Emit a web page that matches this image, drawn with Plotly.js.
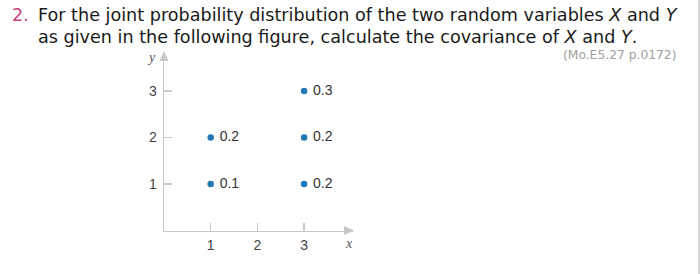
<!DOCTYPE html>
<html><head><meta charset="utf-8">
<script src="https://cdn.plot.ly/plotly-3.0.1.min.js"></script>
<style>html,body{margin:0;padding:0;background:#fff;}#chart{width:700px;height:274px;}</style>
</head><body><div id="chart"></div>
<script>
const xValues = [1, 1, 3, 3, 3];
const yValues = [1, 2, 1, 2, 3];
const probabilities = [0.1, 0.2, 0.2, 0.2, 0.3];
const xTicks = [1, 2, 3];
const yTicks = [1, 2, 3];

const W = 700, H = 274;
const px = v => v / W, py = v => 1 - v / H;
const axisColor = '#c8c8c8';

const trace = {
  type: 'scatter', mode: 'markers+text',
  x: xValues, y: yValues,
  text: probabilities.map(p => '\u00a0' + p.toFixed(1)),
  textposition: 'middle right',
  textfont: {family: 'Liberation Sans, Arial, sans-serif', size: 14, color: '#333'},
  marker: {size: 6.5, color: '#2277b4'},
  hoverinfo: 'none', cliponaxis: false
};

const tickFont = {family: 'Liberation Sans, Arial, sans-serif', size: 14, color: '#444'};

const layout = {
  width: W, height: H,
  margin: {l: 0, r: 0, t: 0, b: 0},
  paper_bgcolor: '#fff', plot_bgcolor: '#fff',
  showlegend: false,
  xaxis: {
    domain: [px(164), px(353)], range: [0, 189/46.7],
    tickvals: xTicks, ticktext: xTicks.map(String),
    ticks: 'inside', ticklen: 8, tickcolor: axisColor, tickwidth: 1.3,
    showline: true, linecolor: axisColor, linewidth: 1.5,
    showgrid: false, zeroline: false,
    tickfont: tickFont, ticklabelstandoff: 1,
    fixedrange: true
  },
  yaxis: {
    domain: [1 - 230.5/H, 1 - 52/H], range: [0, 178.5/46.5],
    tickvals: yTicks, ticktext: yTicks.map(String),
    ticks: 'inside', ticklen: 8, tickcolor: axisColor, tickwidth: 1.3,
    showline: true, linecolor: axisColor, linewidth: 1.5,
    showgrid: false, zeroline: false,
    tickfont: tickFont, ticklabelstandoff: 3,
    fixedrange: true
  },
  shapes: [
    {type: 'path', xref: 'paper', yref: 'paper',
     path: `M ${px(159.5)} ${py(61)} L ${px(164)} ${py(51)} L ${px(168.5)} ${py(61)} Z`,
     fillcolor: axisColor, line: {width: 0}},
    {type: 'path', xref: 'paper', yref: 'paper',
     path: `M ${px(344)} ${py(226)} L ${px(354)} ${py(230.5)} L ${px(344)} ${py(235)} Z`,
     fillcolor: axisColor, line: {width: 0}},
    {type: 'line', xref: 'paper', yref: 'paper',
     x0: px(699), x1: px(699), y0: 0, y1: 1,
     line: {color: '#cfcfcf', width: 1.5}}
  ],
  annotations: [
    {xref: 'paper', yref: 'paper', x: px(10), y: py(15), xanchor: 'left', yanchor: 'middle',
     text: '2.', showarrow: false,
     font: {family: 'DejaVu Sans, Verdana, sans-serif', size: 17.6, color: '#c8457f'}},
    {xref: 'paper', yref: 'paper', x: px(36), y: py(15), xanchor: 'left', yanchor: 'middle',
     text: 'For the joint probability distribution of the two random variables <i>X</i> and <i>Y</i>',
     showarrow: false,
     font: {family: 'DejaVu Sans, Verdana, sans-serif', size: 17.6, color: '#1a1a1a'}},
    {xref: 'paper', yref: 'paper', x: px(36), y: py(37), xanchor: 'left', yanchor: 'middle',
     text: 'as given in the following figure, calculate the covariance of <i>X</i> and <i>Y</i>.',
     showarrow: false,
     font: {family: 'DejaVu Sans, Verdana, sans-serif', size: 17.6, color: '#1a1a1a'}},
    {xref: 'paper', yref: 'paper', x: px(679), y: py(55), xanchor: 'right', yanchor: 'middle',
     text: '(Mo.E5.27 p.0172)', showarrow: false,
     font: {family: 'DejaVu Sans, Verdana, sans-serif', size: 12.3, color: '#a0a0a0'}},
    {xref: 'paper', yref: 'paper', x: px(151), y: py(58), xanchor: 'center', yanchor: 'middle',
     text: '<i>y</i>', showarrow: false,
     font: {family: 'Liberation Serif, Times New Roman, serif', size: 14, color: '#555'}},
    {xref: 'paper', yref: 'paper', x: px(349), y: py(243), xanchor: 'center', yanchor: 'middle',
     text: '<i>x</i>', showarrow: false,
     font: {family: 'Liberation Serif, Times New Roman, serif', size: 14, color: '#555'}}
  ]
};

Plotly.newPlot('chart', [trace], layout, {displayModeBar: false, staticPlot: true});
</script></body></html>
